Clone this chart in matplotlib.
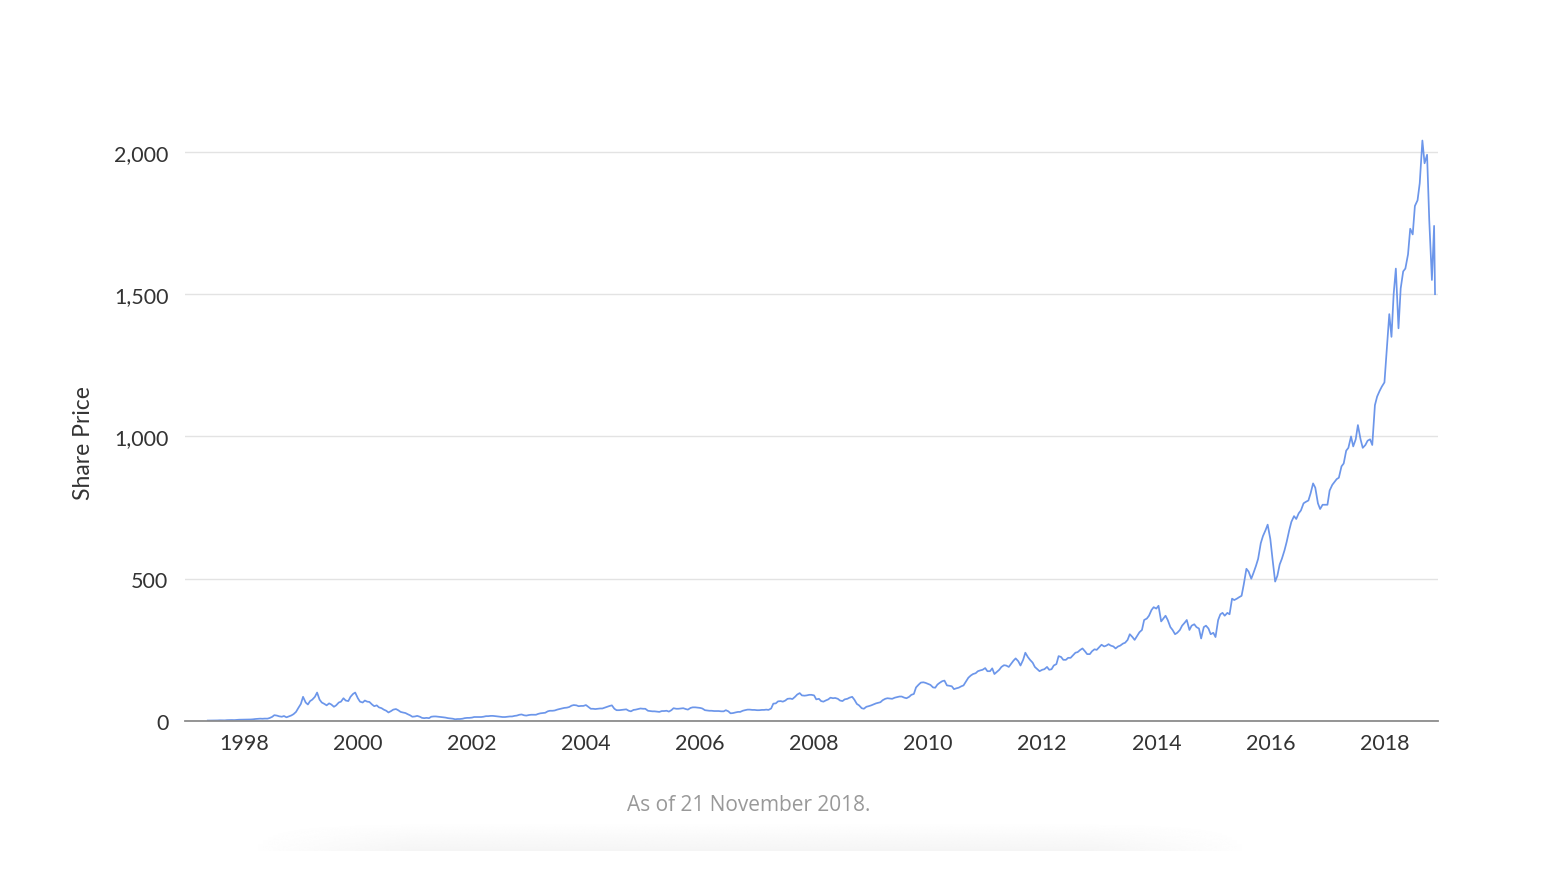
import numpy as np
import pandas as pd
import matplotlib
matplotlib.use("Agg")
import matplotlib.pyplot as plt

# share price, two readings per month (1st and 15th)
p1997 = [1.5, 1.6, 1.4, 1.6, 2.0, 2.5, 2.3, 2.2, 3.0, 3.4, 3.5, 3.2, 3.9, 4.5, 4.6]
p1998 = [5.0, 4.6, 4.8, 5.4, 6.0, 7.0, 7.8, 8.3, 7.9, 8.5, 8.3, 10.5,
         14.5, 20.5, 19.0, 16.5, 15.0, 17.5, 13.0, 16.0, 19.5, 24.0, 32.0, 45.0]
p1999 = [60, 85, 65, 58, 70, 75, 85, 100, 75, 65, 60, 55,
         62, 58, 50, 55, 65, 68, 80, 72, 70, 85, 95, 100]
p2000 = [80, 68, 65, 72, 68, 67, 58, 52, 55, 48, 45, 40,
         36, 30, 35, 40, 42, 38, 32, 30, 28, 24, 20, 15]
p2001 = [16, 18, 15, 11, 10, 11, 10, 15, 16, 16, 15, 14,
         13, 12, 10, 9, 8, 6, 7, 7, 8, 10, 11, 11]
p2002 = [12, 14, 14, 14, 14, 15, 17, 17, 18, 18, 17, 16,
         15, 14, 14, 15, 16, 16, 18, 19, 22, 23, 20, 19]
p2003 = [21, 22, 22, 22, 25, 27, 28, 29, 34, 36, 36, 37,
         40, 42, 44, 46, 47, 49, 54, 56, 55, 52, 53, 53]
p2004 = [56, 50, 43, 43, 42, 43, 44, 44, 47, 50, 53, 55,
         43, 38, 38, 39, 40, 41, 36, 34, 39, 40, 42, 44]
p2005 = [43, 43, 36, 35, 34, 34, 33, 32, 35, 35, 36, 33,
         38, 45, 43, 43, 44, 45, 42, 40, 46, 48, 48, 47]
p2006 = [46, 44, 38, 37, 36, 36, 35, 35, 35, 34, 34, 38,
         34, 27, 28, 30, 32, 32, 36, 38, 40, 40, 39, 39]
p2007 = [38, 38, 39, 39, 40, 39, 44, 61, 62, 69, 70, 68,
         72, 78, 79, 77, 85, 93, 98, 90, 89, 90, 92, 92]
p2008 = [90, 76, 78, 70, 68, 72, 76, 82, 80, 81, 78, 72,
         70, 76, 78, 82, 85, 75, 60, 55, 45, 43, 50, 52]
p2009 = [55, 58, 62, 64, 66, 73, 78, 80, 79, 78, 82, 84,
         86, 86, 82, 80, 85, 92, 95, 118, 128, 135, 136, 134]
p2010 = [130, 127, 118, 117, 128, 134, 140, 142, 125, 124, 122, 112,
         115, 117, 122, 125, 140, 152, 160, 165, 168, 175, 178, 180]
p2011 = [186, 175, 175, 185, 165, 172, 180, 190, 196, 195, 190, 200,
         212, 220, 210, 195, 215, 240, 225, 215, 205, 190, 182, 175]
p2012 = [180, 182, 190, 180, 182, 195, 200, 228, 225, 215, 215, 222,
         222, 230, 240, 242, 250, 255, 245, 235, 235, 245, 252, 250]
p2013 = [260, 268, 262, 265, 270, 265, 262, 255, 262, 265, 272, 275,
         285, 305, 295, 285, 300, 312, 320, 355, 360, 370, 390, 400]
p2014 = [395, 405, 350, 360, 370, 355, 330, 320, 305, 310, 320, 335,
         345, 355, 320, 335, 340, 330, 325, 290, 330, 335, 325, 305]
p2015 = [310, 295, 355, 375, 380, 370, 380, 375, 430, 425, 430, 435,
         440, 480, 535, 525, 500, 520, 545, 570, 625, 650, 670, 690]
p2016 = [640, 570, 490, 510, 550, 570, 600, 630, 670, 700, 720, 710,
         730, 740, 765, 770, 775, 800, 835, 820, 765, 745, 760, 760]
p2017 = [760, 810, 830, 840, 850, 855, 895, 905, 950, 960, 1000, 965,
         990, 1040, 990, 960, 970, 985, 990, 970, 1110, 1140, 1160, 1175]
p2018 = [1190, 1300, 1430, 1350, 1500, 1590, 1380, 1520, 1580, 1590, 1640, 1730,
         1710, 1810, 1830, 1890, 2040, 1960, 1990, 1760, 1550, 1740]
last_date = "2018-11-21"
last_price = 1500

x_ticks = [str(y) for y in range(1998, 2019, 2)]
y_ticks = [0, 500, 1000, 1500, 2000]

prices = (p1997 + p1998 + p1999 + p2000 + p2001 + p2002 + p2003 + p2004 + p2005
          + p2006 + p2007 + p2008 + p2009 + p2010 + p2011 + p2012 + p2013 + p2014
          + p2015 + p2016 + p2017 + p2018 + [last_price])
dates = list(pd.date_range("1997-05-15", periods=len(prices) - 1, freq="SMS"))
dates.append(pd.Timestamp(last_date))

fig = plt.figure(figsize=(15.64, 8.78), dpi=100)
ax = fig.add_axes([185 / 1564, 156 / 878, (1438 - 185) / 1564, (722 - 96) / 878])

ax.plot(dates, prices, color="#6c96ea", lw=1.25)

ax.set_ylim(0, 2200)
ax.set_xlim(pd.Timestamp("1996-12-20"), pd.Timestamp("2018-12-10"))
ax.set_yticks(y_ticks)
ax.set_yticklabels(["{:,}".format(v) for v in y_ticks])
ax.set_xticks([pd.Timestamp(t + "-01-01") for t in x_ticks])
ax.set_xticklabels(x_ticks)

ax.grid(axis="y", color="#e3e3e3", lw=1)
ax.set_axisbelow(True)
for s in ["top", "right", "left"]:
    ax.spines[s].set_visible(False)
ax.spines["bottom"].set_color("#8c8c8c")
ax.spines["bottom"].set_linewidth(1.3)
ax.tick_params(length=0, labelsize=15.5, labelcolor="#333333")
ax.tick_params(axis="x", pad=9)
ax.tick_params(axis="y", pad=12)
for lab in ax.get_xticklabels() + ax.get_yticklabels():
    lab.set_family("Lato")

fig.text(83 / 1564, 1 - 443 / 878, "Share Price", rotation=90, ha="center", va="center",
         fontsize=16.5, color="#333333", family="Lato")
fig.text(749 / 1564, 1 - 806 / 878, "As of 21 November 2018.", ha="center", va="center",
         fontsize=15, color="#999999", family="Open Sans")

# faint shadow band at the bottom
sh = fig.add_axes([240 / 1564, 26 / 878, 1020 / 1564, 28 / 878])
grad = np.linspace(1.0, 0.96, 50).reshape(-1, 1) * np.ones((1, 200))
edge = np.minimum(1, np.minimum(np.linspace(0, 6, 200), np.linspace(6, 0, 200)))
grad = 1 - (1 - grad) * edge
sh.imshow(grad, cmap="gray", vmin=0, vmax=1, aspect="auto")
sh.axis("off")

fig.savefig("out.png", dpi=100)
